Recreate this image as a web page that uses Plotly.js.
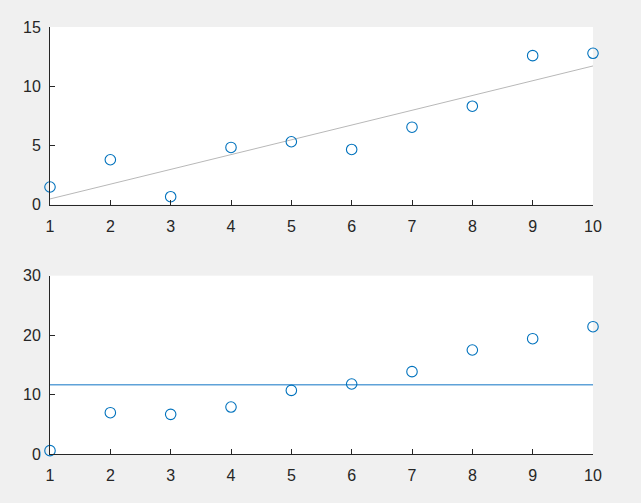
<!DOCTYPE html>
<html>
<head>
<meta charset="utf-8">
<script src="https://cdn.plot.ly/plotly-3.0.1.min.js"></script>
<style>
  html, body { margin: 0; padding: 0; background: #f0f0f0; }
  #chart { width: 641px; height: 503px; }
</style>
</head>
<body>
<div id="chart"></div>
<script>
// === Data === //
var xs = [1, 2, 3, 4, 5, 6, 7, 8, 9, 10];
var topY = [1.49, 3.79, 0.67, 4.83, 5.31, 4.66, 6.54, 8.31, 12.58, 12.78];
var bottomY = [0.56, 6.95, 6.67, 7.9, 10.7, 11.78, 13.85, 17.5, 19.4, 21.42];

// fitted line on top panel (end points)
var fitX = [1, 10];
var fitY = [0.48, 11.71];

// level line on bottom panel
var levelX = [1, 10];
var levelY = [11.66, 11.66];

var xTicks = [1, 2, 3, 4, 5, 6, 7, 8, 9, 10];
var topTicks = [0, 5, 10, 15];
var bottomTicks = [0, 10, 20, 30];

var blue = '#0072bd';
var axisColor = '#262626';

// === Traces === //
var traces = [
    {
        x: fitX, y: fitY,
        xaxis: 'x', yaxis: 'y',
        mode: 'lines',
        line: {color: '#b8b8b8', width: 1},
        hoverinfo: 'skip'
    },
    {
        x: xs, y: topY,
        xaxis: 'x', yaxis: 'y',
        mode: 'markers',
        marker: {symbol: 'circle-open', size: 10.5, color: blue, line: {width: 1.1, color: blue}},
        cliponaxis: false
    },
    {
        x: levelX, y: levelY,
        xaxis: 'x2', yaxis: 'y2',
        mode: 'lines',
        line: {color: '#5fa2d8', width: 1.6},
        hoverinfo: 'skip'
    },
    {
        x: xs, y: bottomY,
        xaxis: 'x2', yaxis: 'y2',
        mode: 'markers',
        marker: {symbol: 'circle-open', size: 10.5, color: blue, line: {width: 1.1, color: blue}},
        cliponaxis: false
    }
];

// axis styling shared by all four axes
function axisStyle(extra){
    var base = {
        showgrid: false,
        zeroline: false,
        showline: true,
        linecolor: axisColor,
        linewidth: 1,
        ticks: 'inside',
        ticklen: 5,
        tickwidth: 1,
        tickcolor: axisColor,
        tickfont: {family: 'Liberation Sans, Arial, sans-serif', size: 16, color: axisColor},
        fixedrange: true
    };
    for (var k in extra){ base[k] = extra[k]; }
    return base;
}

var layout = {
    width: 641,
    height: 503,
    showlegend: false,
    paper_bgcolor: '#f0f0f0',
    plot_bgcolor: '#ffffff',
    margin: {l: 50, r: 48, t: 27, b: 49},
    xaxis: axisStyle({domain: [0, 1], range: [1, 10], tickvals: xTicks, anchor: 'y', ticklabelstandoff: 7}),
    yaxis: axisStyle({domain: [0.584, 1], range: [0, 15], tickvals: topTicks, anchor: 'x', ticklabelstandoff: 5}),
    xaxis2: axisStyle({domain: [0, 1], range: [1, 10], tickvals: xTicks, anchor: 'y2', ticklabelstandoff: 7}),
    yaxis2: axisStyle({domain: [0, 0.4176], range: [0, 30], tickvals: bottomTicks, anchor: 'x2', ticklabelstandoff: 5})
};

Plotly.newPlot('chart', traces, layout, {displayModeBar: false, staticPlot: true});
</script>
</body>
</html>
